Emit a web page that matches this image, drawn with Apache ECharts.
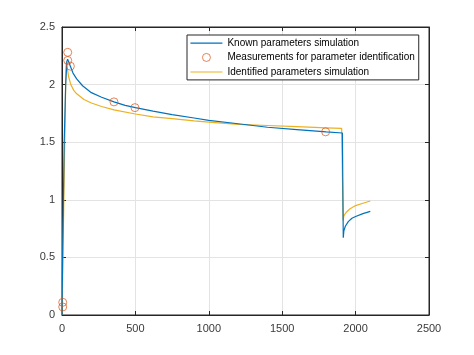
<!DOCTYPE html>
<html><head><meta charset="utf-8">
<script src="https://cdn.jsdelivr.net/npm/echarts@6/dist/echarts.min.js"></script>
<style>html,body{margin:0;padding:0;background:#fff}#c{width:474px;height:355px}</style>
</head><body><div id="c"></div>
<script>
var seriesNames = ['Known parameters simulation','Measurements for parameter identification','Identified parameters simulation'];
var xTicks = [0,500,1000,1500,2000,2500];
var yTicks = [0,0.5,1,1.5,2,2.5];
var knownSim = [[0,0],[5,0.6],[15,1.5],[25,2.0],[33,2.2],[38,2.22],[45,2.2],[57,2.16],[75,2.1],[100,2.05],[140,1.99],[200,1.93],[270,1.89],[354,1.85],[430,1.82],[500,1.80],[620,1.77],[750,1.74],[900,1.71],[1000,1.69],[1200,1.66],[1400,1.63],[1600,1.61],[1800,1.59],[1910,1.58],[1916,0.67],[1920,0.73],[1930,0.77],[1950,0.81],[1975,0.84],[2000,0.855],[2050,0.88],[2100,0.9]];
var measurements = [[5,0.07],[5,0.11],[39,2.28],[39,2.21],[57,2.16],[354,1.85],[497,1.80],[1796,1.59]];
var identSim = [[0,0],[10,0.8],[20,1.6],[27,2.15],[30,2.2],[35,2.15],[45,2.07],[60,2.0],[80,1.95],[100,1.92],[150,1.87],[200,1.84],[270,1.81],[354,1.78],[500,1.745],[620,1.72],[750,1.705],[900,1.685],[1000,1.675],[1200,1.655],[1400,1.645],[1600,1.635],[1800,1.625],[1905,1.62],[1915,0.82],[1920,0.86],[1935,0.89],[1960,0.92],[2000,0.95],[2050,0.97],[2100,0.99]];

var axisCol = '#262626';
var lineIcon = 'path://M0,0h0.01v0.01h-0.01z M0,4.5h32v1.2h-32z M0,9.99h0.01v0.01h-0.01z';
var chart = echarts.init(document.getElementById('c'));
var xBase = {type:'value', min:xTicks[0], max:xTicks[xTicks.length-1], interval:500};
var yBase = {type:'value', min:yTicks[0], max:yTicks[yTicks.length-1], interval:0.5};
chart.setOption({
  animation:false,
  backgroundColor:'#fff',
  grid:{left:62, right:45, top:27, bottom:40, show:true, borderColor:axisCol, borderWidth:1},
  xAxis:[
    Object.assign({}, xBase, {position:'bottom',
      axisLine:{show:true, onZero:false, lineStyle:{color:axisCol}},
      axisTick:{show:true, inside:true, length:4, lineStyle:{color:axisCol}},
      axisLabel:{color:'#3a3a3a', fontSize:11, fontFamily:'Liberation Sans', margin:8, formatter:function(v){return String(v);}},
      splitLine:{show:true, lineStyle:{color:'#e3e3e3'}}}),
    Object.assign({}, xBase, {position:'top',
      axisLine:{show:true, onZero:false, lineStyle:{color:axisCol}},
      axisTick:{show:true, inside:true, length:4, lineStyle:{color:axisCol}},
      axisLabel:{show:false}, splitLine:{show:false}})
  ],
  yAxis:[
    Object.assign({}, yBase, {position:'left',
      axisLine:{show:true, onZero:false, lineStyle:{color:axisCol}},
      axisTick:{show:true, inside:true, length:4, lineStyle:{color:axisCol}},
      axisLabel:{color:'#3a3a3a', fontSize:11, fontFamily:'Liberation Sans', margin:7, formatter:function(v){return String(v);}},
      splitLine:{show:true, lineStyle:{color:'#e3e3e3'}}}),
    Object.assign({}, yBase, {position:'right',
      axisLine:{show:true, onZero:false, lineStyle:{color:axisCol}},
      axisTick:{show:true, inside:true, length:4, lineStyle:{color:axisCol}},
      axisLabel:{show:false}, splitLine:{show:false}})
  ],
  legend:{
    left:187, top:35, orient:'vertical', itemGap:4, itemWidth:32, itemHeight:10,
    padding:[3,4,3,3], backgroundColor:'#fff', borderColor:axisCol, borderWidth:1,
    textStyle:{color:'#000', fontSize:10, fontFamily:'Liberation Sans'},
    data:[
      {name:seriesNames[0], icon:lineIcon, itemStyle:{color:'#0072BD', borderWidth:0}},
      {name:seriesNames[1], icon:'path://M0,0h0.01v0.01h-0.01z M32,10h0.01v0.01h-0.01z M16,1a4,4 0 1,0 0.001,0z', itemStyle:{color:'rgba(0,0,0,0)', borderColor:'#D95319', borderWidth:0.9}},
      {name:seriesNames[2], icon:lineIcon, itemStyle:{color:'#EDB120', borderWidth:0}}
    ]
  },
  series:[
    {name:seriesNames[0], type:'line', data:knownSim, showSymbol:false, symbol:'none',
     lineStyle:{color:'#0072BD', width:1.2}, itemStyle:{color:'#0072BD'}, z:3},
    {name:seriesNames[1], type:'scatter', data:measurements, symbol:'circle', symbolSize:8,
     itemStyle:{color:'rgba(0,0,0,0)', borderColor:'#D95319', borderWidth:0.9}, z:4},
    {name:seriesNames[2], type:'line', data:identSim, showSymbol:false, symbol:'none',
     lineStyle:{color:'#EDB120', width:1.2}, itemStyle:{color:'#EDB120'}, z:2}
  ]
});
</script></body></html>
